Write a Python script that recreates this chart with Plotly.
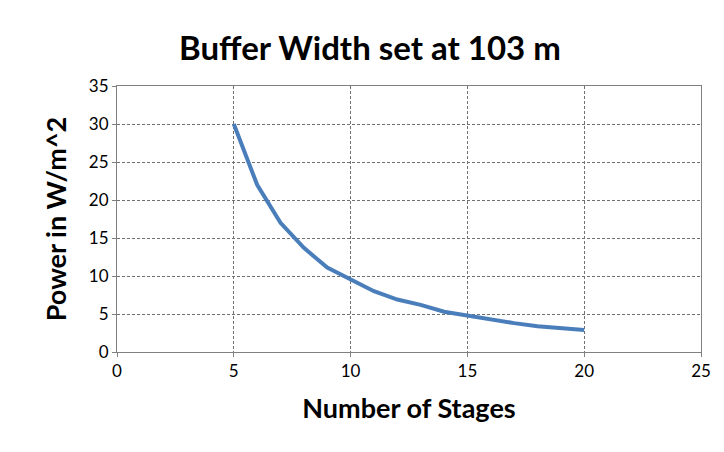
import plotly.graph_objects as go

stages = [5, 6, 7, 8, 9, 10, 11, 12, 13, 14, 15, 16, 17, 18, 19, 20]
power = [30, 22, 17, 13.7, 11.1, 9.5, 8.0, 6.9, 6.2, 5.3, 4.8, 4.2, 3.8, 3.4, 3.2, 2.9]

fig = go.Figure(go.Scatter(x=stages, y=power, mode="lines",
                           line=dict(color="#4a7ebb", width=4)))
grid = dict(showgrid=True, gridcolor="#707070", griddash="3px,2px", gridwidth=1,
            showline=True, linecolor="#808080", mirror=True, zeroline=False,
            ticks="outside", ticklen=4, tickcolor="#808080", automargin=False,
            tickfont=dict(family="Lato", size=17, color="black"))
fig.update_layout(
    width=724, height=452, paper_bgcolor="white", plot_bgcolor="white",
    margin=dict(l=109, r=31, t=78, b=108),
    title=dict(text="<b>Buffer Width set at 103 m</b>", x=0.5, xanchor="center",
               y=0.935, font=dict(family="Lato", size=33, color="black")),
    showlegend=False,
    xaxis=dict(range=[0, 25], dtick=5,
               title=dict(text="<b>Number of Stages</b>", standoff=18,
                          font=dict(family="Lato", size=27, color="black")),
               **grid),
    yaxis=dict(range=[0, 35], dtick=5,
               title=dict(text="<b>Power in W/m^2</b>", standoff=14,
                          font=dict(family="Lato", size=27, color="black")),
               **grid),
)
fig.write_html("out.html")
